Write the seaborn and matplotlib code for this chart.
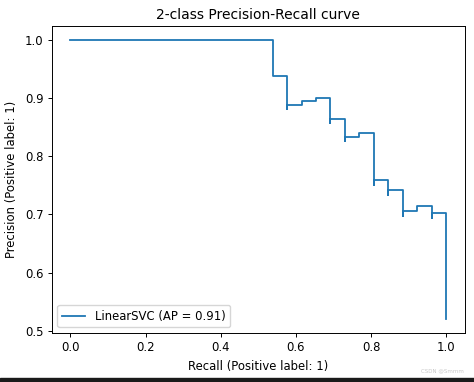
import matplotlib
matplotlib.use("Agg")
import matplotlib.pyplot as plt
import seaborn as sns
from matplotlib.patches import Rectangle

# points of the curve (recall goes from 1 down to 0)
recall = [1.0, 1.0, 0.962, 0.962, 0.923, 0.885, 0.885, 0.846, 0.846,
          0.808, 0.808, 0.769, 0.731, 0.731, 0.692, 0.692, 0.654,
          0.615, 0.577, 0.577, 0.538, 0.0]
precision = [0.52, 0.703, 0.694, 0.714, 0.706, 0.697, 0.742, 0.733, 0.759,
             0.750, 0.840, 0.833, 0.826, 0.864, 0.857, 0.900, 0.895,
             0.889, 0.882, 0.9375, 1.0, 1.0]
curve_label = "LinearSVC (AP = 0.91)"

# the screenshot is a scaled down figure, so everything is a bit smaller
plt.rcParams.update({
    "font.size": 8.4,
    "axes.titlesize": 10,
    "axes.linewidth": 0.7,
    "xtick.major.size": 2.9,
    "ytick.major.size": 2.9,
    "xtick.major.width": 0.7,
    "ytick.major.width": 0.7,
    "xtick.major.pad": 2.9,
    "ytick.major.pad": 2.9,
    "axes.titlepad": 4.9,
})

fig = plt.figure(figsize=(4.74, 3.82), dpi=100)
ax = fig.add_axes([0.109, 0.128, 0.872, 0.804])

sns.lineplot(x=recall, y=precision, sort=False, estimator=None,
             drawstyle="steps-post", color="#1f77b4", linewidth=1.3,
             label=curve_label, ax=ax)

ax.set_title("2-class Precision-Recall curve")
ax.set_xlabel("Recall (Positive label: 1)", labelpad=4.5)
ax.set_ylabel("Precision (Positive label: 1)", labelpad=5)
ax.set_xticks([0.0, 0.2, 0.4, 0.6, 0.8, 1.0])
ax.set_yticks([0.5, 0.6, 0.7, 0.8, 0.9, 1.0])
ax.legend(loc="lower left")

# dark strip and watermark of the screenshot
fig.patches.append(Rectangle((0, 0), 1, 4 / 382, transform=fig.transFigure,
                             color="#1a1a1a", zorder=0))
fig.text(0.978, 0.022, "CSDN @Smmm", ha="right", va="bottom",
         fontsize=4, color="#c8c8c8")

fig.savefig("out.png", dpi=100)
